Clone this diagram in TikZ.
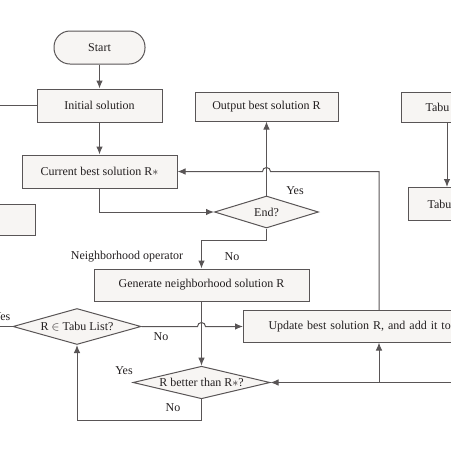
\documentclass[tikz,border=0pt]{standalone}
\usepackage{fontspec}
\setmainfont{Liberation Serif}
\usetikzlibrary{arrows.meta,shapes.geometric}
\definecolor{ln}{HTML}{595556}
\definecolor{tx}{HTML}{231F20}
\definecolor{bx}{HTML}{F7F5F3}
\tikzset{
  box/.style={draw=ln, fill=bx, line width=1pt, text=tx, inner sep=0pt, align=center},
  term/.style={box, rounded corners=16pt},
  cond/.style={diamond, draw=ln, fill=bx, line width=1pt, text=tx, inner sep=0pt, aspect=3.5},
  flow/.style={draw=ln, line width=1pt, -{Latex[length=8pt,width=6.5pt]}},
  link/.style={draw=ln, line width=1pt},
  lbl/.style={text=tx, inner sep=0pt},
}

\begin{document}
\begin{tikzpicture}[x=1pt, y=-1pt, font=\fontsize{12}{14}\selectfont]
  \useasboundingbox (0,0) rectangle (451,451);
  \clip (0,0) rectangle (451,451);

  % main column
  \node[term, minimum width=91pt, minimum height=33pt] (start) at (99.5,47.5) {Start};
  \node[box, minimum width=125pt, minimum height=33pt] (init) at (99.5,105.5) {Initial solution};
  \node[box, minimum width=155pt, minimum height=33pt] (cur) at (99.5,171.5) {Current best solution R$\ast$};
  \node[box, minimum width=143pt, minimum height=29pt] (out) at (266.5,106.5) {Output best solution R};
  \node[cond, minimum width=104pt, minimum height=32pt] (done) at (266.5,212) {End?};
  \node[box, minimum width=215pt, minimum height=32pt] (gen) at (201.5,285) {Generate neighborhood solution R};
  \node[cond, minimum width=128pt, minimum height=36pt] (tabu) at (77,326.5) {R $\in$ Tabu List?};
  \node[cond, minimum width=137pt, minimum height=31pt] (better) at (201.5,382.5) {R better than R$\ast$?};
  \node[box, anchor=west, minimum height=32pt, inner xsep=25pt, text width=250pt, align=left] (upd) at (243,326.5) {Update best solution R, and add it to T};

  % boxes cut by the frame
  \node[box, anchor=north west, minimum height=30pt, inner xsep=24pt, text width=80pt, align=left] (tla) at (401,92) {Tabu};
  \node[box, anchor=north west, minimum height=33pt, inner xsep=19pt, text width=80pt, align=left] (tlb) at (408,187) {Tabu};
  \node[box, anchor=north east, minimum width=100pt, minimum height=31pt] (side) at (36,204) {};

  \coordinate (ua) at (379,310.5);
  \coordinate (ub) at (379,342.5);
  \coordinate (jb) at (379,382.5);
  \coordinate (rin) at (460,382.5);
  \coordinate (hopa) at (270.5,171.5);
  \coordinate (hopb) at (197.5,326.5);
  \coordinate (li) at (-10,105.5);
  \coordinate (lo) at (-10,326.5);
  \coordinate (ta) at (447,122);
  \coordinate (tb) at (447,187);

  % connectors
  \draw[flow] (start) -- (init);
  \draw[flow] (init) -- (cur);
  \draw[flow] (cur.south) |- (done.west);
  \draw[flow] (done.north) -- (out.south);
  \draw[flow] (ua) |- (hopa) arc[start angle=0, end angle=180, radius=4pt] -- (cur.east);
  \draw[flow] (done.south) -- ++(0,12) -| (gen.north);
  \draw[flow] (gen) -- (better);
  \draw[flow] (tabu.east) -- (hopb) arc[start angle=180, end angle=0, radius=4pt] -- (upd.west);
  \draw[flow] (better.south) -- ++(0,21) -| (tabu.south);
  \draw[flow] (rin) -- (better.east);
  \draw[flow] (jb) -- (ub);
  \draw[link] (init.west) -- (li);
  \draw[link] (tabu.west) -- (lo);
  \draw[flow] (ta) -- (tb);

  % labels
  \node[lbl] (yesend) at (295,191) {Yes};
  \node[lbl] (noend) at (232,257) {No};
  \node[lbl] (nbop) at (127,257) {Neighborhood operator};
  \node[lbl] (notabu) at (161,337) {No};
  \node[lbl] (yesbetter) at (124,371) {Yes};
  \node[lbl] (nobetter) at (173,408) {No};
  \node[lbl, anchor=east] (yestabu) at (10.5,317) {Yes};
\end{tikzpicture}
\end{document}
